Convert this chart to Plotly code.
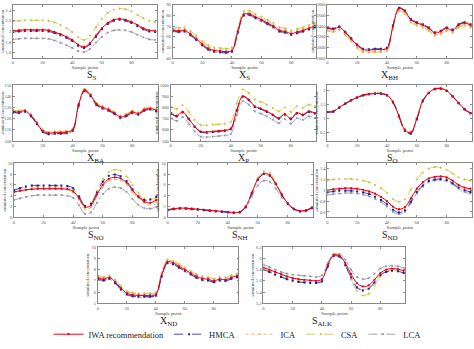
import plotly.graph_objects as go

# Sample points shared by every panel
sample_points = list(range(0, 97, 4))

methods = ["IWA recommendation", "HMCA", "ICA", "CSA", "LCA"]

# ---- S_S ----
ss_iwa = [2.01, 2.02, 2.03, 2.03, 2.03, 2.03, 2.02, 1.99, 1.95, 1.90, 1.84, 1.75, 1.71, 1.78, 1.92, 2.06, 2.16, 2.22, 2.235, 2.22, 2.18, 2.12, 2.06, 2.02, 2.01]
ss_hmca = [1.99, 2.00, 2.01, 2.01, 2.01, 2.01, 2.00, 1.97, 1.93, 1.88, 1.82, 1.73, 1.69, 1.76, 1.90, 2.04, 2.14, 2.20, 2.22, 2.20, 2.16, 2.10, 2.04, 2.00, 1.99]
ss_ica = [2.02, 2.03, 2.04, 2.04, 2.04, 2.04, 2.03, 2.00, 1.96, 1.91, 1.85, 1.76, 1.72, 1.79, 1.93, 2.07, 2.17, 2.23, 2.25, 2.23, 2.19, 2.13, 2.07, 2.03, 2.02]
ss_csa = [2.19, 2.20, 2.21, 2.21, 2.21, 2.21, 2.20, 2.17, 2.12, 2.06, 1.99, 1.89, 1.84, 1.92, 2.08, 2.24, 2.35, 2.41, 2.43, 2.42, 2.38, 2.31, 2.25, 2.20, 2.18]
ss_lca = [1.85, 1.86, 1.87, 1.87, 1.87, 1.87, 1.86, 1.83, 1.79, 1.74, 1.69, 1.63, 1.61, 1.67, 1.79, 1.90, 1.98, 2.02, 2.03, 2.02, 1.99, 1.94, 1.89, 1.85, 1.84]

# ---- X_S ----
xs_iwa = [66.5, 65.5, 66, 62.5, 58, 53, 49, 47, 46.5, 46, 47, 65, 81, 81.5, 78.5, 76, 73, 70, 66, 65, 63, 64.5, 66, 68, 70]
xs_hmca = [65.7, 64.7, 65.2, 61.7, 57.2, 52.2, 48.2, 46.2, 45.7, 45.2, 46.2, 64.2, 80.2, 80.7, 77.7, 75.2, 72.2, 69.2, 65.2, 64.2, 62.2, 63.7, 65.2, 67.2, 69.2]
xs_ica = [68, 67, 67.5, 64, 59.5, 54.5, 50.5, 48.5, 48, 47.5, 48.5, 66.5, 82.5, 83, 80, 77.5, 74.5, 71.5, 67.5, 66.5, 64.5, 66, 67.5, 69.5, 71.5]
xs_csa = [69.5, 68.5, 69, 65.5, 61, 56, 52, 50, 49.5, 49, 50, 68, 84, 84.5, 81.5, 79, 76, 73, 69, 68, 66, 67.5, 69, 71, 73]
xs_lca = [65, 64, 64.5, 61, 56.5, 51.5, 47.5, 45.5, 45, 44.5, 45.5, 63.5, 79.5, 80, 77, 74.5, 71.5, 68.5, 64.5, 63.5, 61.5, 63, 64.5, 66.5, 68.5]

# ---- X_BH ----
xbh_iwa = [2360, 2340, 2380, 2280, 2160, 2040, 1960, 1950, 1960, 1960, 1980, 2400, 2730, 2680, 2520, 2460, 2420, 2360, 2270, 2300, 2360, 2320, 2420, 2460, 2420]
xbh_hmca = [2370, 2350, 2390, 2290, 2170, 2050, 1970, 1960, 1970, 1970, 1990, 2410, 2740, 2690, 2530, 2470, 2430, 2370, 2280, 2310, 2370, 2330, 2430, 2470, 2430]
xbh_ica = [2330, 2310, 2350, 2250, 2130, 2010, 1930, 1920, 1930, 1930, 1950, 2370, 2700, 2650, 2490, 2430, 2390, 2330, 2240, 2270, 2330, 2290, 2390, 2430, 2390]
xbh_csa = [2310, 2290, 2330, 2230, 2110, 1990, 1910, 1900, 1910, 1910, 1930, 2350, 2680, 2630, 2470, 2410, 2370, 2310, 2220, 2250, 2310, 2270, 2370, 2410, 2370]
xbh_lca = [2380, 2360, 2400, 2300, 2180, 2060, 1980, 1970, 1980, 1980, 2000, 2420, 2750, 2700, 2540, 2480, 2440, 2380, 2290, 2320, 2380, 2340, 2440, 2480, 2440]

# ---- X_BA ----
xba_iwa = [126.5, 126, 127, 123, 116, 109, 107, 107.5, 107.5, 108, 110, 132.5, 145.5, 141, 133, 130, 128, 125, 121.5, 123, 126, 124.5, 128, 129, 127.5]
xba_hmca = [125.8, 125.3, 126.3, 122.3, 115.3, 108.3, 106.3, 106.8, 106.8, 107.3, 109.3, 131.8, 144.8, 140.3, 132.3, 129.3, 127.3, 124.3, 120.8, 122.3, 125.3, 123.8, 127.3, 128.3, 126.8]
xba_ica = [127.2, 126.7, 127.7, 123.7, 116.7, 109.7, 107.7, 108.2, 108.2, 108.7, 110.7, 133.2, 146.2, 141.7, 133.7, 130.7, 128.7, 125.7, 122.2, 123.7, 126.7, 125.2, 128.7, 129.7, 128.2]
xba_csa = [127.7, 127.2, 128.2, 124.2, 117.2, 110.2, 108.2, 108.7, 108.7, 109.2, 111.2, 133.7, 146.7, 142.2, 134.2, 131.2, 129.2, 126.2, 122.7, 124.2, 127.2, 125.7, 129.2, 130.2, 128.7]
xba_lca = [125.3, 124.8, 125.8, 121.8, 114.8, 107.8, 105.8, 106.3, 106.3, 106.8, 108.8, 131.3, 144.3, 139.8, 131.8, 128.8, 126.8, 123.8, 120.3, 121.8, 124.8, 123.3, 126.8, 127.8, 126.3]

# ---- X_P ----
xp_iwa = [750, 725, 760, 700, 630, 585, 580, 585, 590, 595, 610, 775, 900, 870, 810, 790, 765, 735, 705, 740, 700, 750, 735, 765, 750]
xp_hmca = [745, 720, 755, 695, 625, 580, 575, 580, 585, 590, 605, 770, 895, 865, 805, 785, 760, 730, 700, 735, 695, 745, 730, 760, 745]
xp_ica = [755, 730, 765, 705, 635, 590, 585, 590, 595, 600, 615, 780, 905, 875, 815, 795, 770, 740, 710, 745, 705, 755, 740, 770, 755]
xp_csa = [810, 785, 820, 760, 690, 645, 640, 645, 650, 655, 670, 835, 960, 930, 870, 850, 825, 795, 765, 800, 760, 810, 795, 825, 810]
xp_lca = [705, 680, 715, 655, 585, 540, 535, 540, 545, 550, 565, 730, 855, 825, 765, 745, 720, 690, 660, 695, 655, 705, 690, 720, 705]

# ---- S_O ----
so_iwa = [1.24, 1.26, 1.40, 1.54, 1.66, 1.76, 1.84, 1.88, 1.90, 1.90, 1.84, 1.60, 1.10, 0.60, 0.50, 1.00, 1.64, 1.92, 2.06, 2.08, 2.00, 1.80, 1.56, 1.34, 1.20]
so_hmca = [1.23, 1.25, 1.39, 1.53, 1.65, 1.75, 1.83, 1.87, 1.89, 1.89, 1.83, 1.58, 1.08, 0.57, 0.47, 0.97, 1.62, 1.91, 2.05, 2.07, 1.99, 1.79, 1.55, 1.33, 1.19]
so_ica = [1.24, 1.27, 1.41, 1.55, 1.67, 1.77, 1.85, 1.89, 1.91, 1.91, 1.85, 1.61, 1.12, 0.62, 0.52, 1.02, 1.65, 1.93, 2.07, 2.09, 2.01, 1.81, 1.57, 1.35, 1.21]
so_csa = [1.25, 1.27, 1.41, 1.55, 1.67, 1.77, 1.85, 1.89, 1.91, 1.91, 1.85, 1.62, 1.13, 0.64, 0.54, 1.03, 1.66, 1.93, 2.07, 2.09, 2.01, 1.81, 1.57, 1.35, 1.21]
so_lca = [1.23, 1.25, 1.39, 1.53, 1.65, 1.75, 1.83, 1.87, 1.89, 1.89, 1.83, 1.59, 1.08, 0.56, 0.46, 0.98, 1.63, 1.91, 2.05, 2.07, 1.99, 1.79, 1.55, 1.33, 1.19]

# ---- S_NO ----
sno_iwa = [4.7, 4.9, 5.1, 5.2, 5.3, 5.3, 5.3, 5.3, 5.3, 5.2, 4.8, 3.5, 1.9, 2.2, 4.2, 6.0, 7.1, 7.4, 7.2, 6.4, 5.0, 3.8, 2.9, 2.7, 3.2]
sno_hmca = [5.0, 5.4, 5.7, 5.9, 5.9, 5.9, 5.9, 5.9, 5.9, 5.8, 5.4, 3.9, 2.1, 2.5, 4.6, 6.6, 7.7, 7.9, 7.6, 6.7, 5.2, 3.9, 3.2, 3.3, 3.8]
sno_ica = [4.6, 4.8, 5.0, 5.1, 5.2, 5.2, 5.2, 5.2, 5.2, 5.1, 4.6, 3.2, 1.5, 1.8, 3.8, 5.6, 6.7, 7.0, 6.8, 6.0, 4.6, 3.5, 2.6, 2.4, 2.9]
sno_csa = [5.0, 5.3, 5.5, 5.6, 5.6, 5.6, 5.6, 5.6, 5.6, 5.5, 5.1, 3.8, 2.0, 2.6, 4.9, 7.1, 8.4, 8.8, 8.6, 7.6, 6.0, 4.5, 3.5, 3.3, 3.6]
sno_lca = [3.2, 3.5, 3.8, 4.0, 4.1, 4.1, 4.1, 4.1, 4.1, 4.0, 3.6, 2.2, 0.6, 0.9, 2.7, 4.3, 5.3, 5.6, 5.4, 4.7, 3.4, 2.3, 1.7, 1.6, 1.9]

# ---- S_NH ----
snh_iwa = [1.4, 1.6, 1.7, 1.7, 1.6, 1.5, 1.4, 1.3, 1.2, 1.1, 1.0, 0.9, 1.0, 2.0, 4.5, 7.0, 8.1, 7.8, 6.2, 4.2, 2.6, 1.6, 1.2, 1.3, 1.8]
snh_hmca = [1.3, 1.5, 1.6, 1.6, 1.5, 1.4, 1.3, 1.2, 1.1, 1.0, 0.9, 0.8, 0.9, 1.9, 4.4, 6.9, 8.0, 7.7, 6.1, 4.1, 2.5, 1.5, 1.1, 1.2, 1.7]
snh_ica = [1.4, 1.6, 1.7, 1.7, 1.6, 1.5, 1.4, 1.3, 1.2, 1.1, 1.0, 0.9, 1.0, 2.0, 4.4, 6.9, 7.9, 7.6, 6.1, 4.1, 2.5, 1.6, 1.2, 1.3, 1.8]
snh_csa = [1.4, 1.6, 1.7, 1.7, 1.6, 1.5, 1.4, 1.3, 1.2, 1.1, 1.0, 0.9, 1.0, 2.1, 4.7, 7.3, 8.5, 8.2, 6.5, 4.4, 2.7, 1.6, 1.2, 1.3, 1.8]
snh_lca = [1.4, 1.6, 1.7, 1.7, 1.6, 1.5, 1.4, 1.3, 1.2, 1.1, 1.0, 0.9, 1.0, 1.8, 3.9, 5.9, 6.8, 6.6, 5.3, 3.7, 2.4, 1.5, 1.1, 1.2, 1.7]

# ---- S_ND ----
snd_iwa = [1.00, 1.02, 1.03, 1.04, 1.04, 1.03, 1.01, 0.98, 0.94, 0.88, 0.80, 0.70, 0.65, 0.69, 0.85, 1.03, 1.15, 1.22, 1.25, 1.26, 1.24, 1.18, 1.10, 1.05, 1.03]
snd_hmca = [0.96, 0.98, 0.99, 0.99, 0.99, 0.98, 0.96, 0.93, 0.88, 0.82, 0.74, 0.64, 0.59, 0.63, 0.79, 0.97, 1.09, 1.17, 1.20, 1.21, 1.19, 1.13, 1.05, 1.00, 0.97]
snd_ica = [0.98, 1.00, 1.01, 1.02, 1.02, 1.01, 0.99, 0.96, 0.92, 0.86, 0.78, 0.68, 0.63, 0.67, 0.83, 1.01, 1.13, 1.20, 1.23, 1.24, 1.22, 1.16, 1.08, 1.03, 1.01]
snd_csa = [1.18, 1.20, 1.21, 1.21, 1.21, 1.20, 1.18, 1.15, 1.10, 1.04, 0.95, 0.84, 0.79, 0.84, 1.01, 1.20, 1.33, 1.40, 1.43, 1.42, 1.38, 1.31, 1.24, 1.20, 1.18]
snd_lca = [0.91, 0.93, 0.94, 0.95, 0.95, 0.94, 0.92, 0.89, 0.84, 0.78, 0.70, 0.60, 0.56, 0.60, 0.76, 0.94, 1.07, 1.15, 1.18, 1.19, 1.17, 1.11, 1.03, 0.97, 0.94]

# ---- X_ND ----
xnd_iwa = [7.3, 7.15, 7.3, 6.9, 6.35, 5.9, 5.75, 5.7, 5.7, 5.7, 5.8, 7.5, 8.7, 8.6, 8.3, 8.0, 7.7, 7.4, 7.2, 7.15, 7.0, 7.15, 7.1, 7.3, 7.45]
xnd_hmca = [7.2, 7.05, 7.2, 6.8, 6.25, 5.8, 5.65, 5.6, 5.6, 5.6, 5.7, 7.4, 8.6, 8.5, 8.2, 7.9, 7.6, 7.3, 7.1, 7.05, 6.9, 7.05, 7.0, 7.2, 7.35]
xnd_ica = [7.42, 7.27, 7.42, 7.02, 6.47, 6.02, 5.87, 5.82, 5.82, 5.82, 5.92, 7.62, 8.82, 8.72, 8.42, 8.12, 7.82, 7.52, 7.32, 7.27, 7.12, 7.27, 7.22, 7.42, 7.57]
xnd_csa = [7.5, 7.35, 7.5, 7.1, 6.55, 6.1, 5.95, 5.9, 5.9, 5.9, 6.0, 7.7, 8.9, 8.8, 8.5, 8.2, 7.9, 7.6, 7.4, 7.35, 7.2, 7.35, 7.3, 7.5, 7.65]
xnd_lca = [7.15, 7.0, 7.15, 6.75, 6.2, 5.75, 5.6, 5.55, 5.55, 5.55, 5.65, 7.35, 8.55, 8.45, 8.15, 7.85, 7.55, 7.25, 7.05, 7.0, 6.85, 7.0, 6.95, 7.15, 7.3]

# ---- S_ALK ----
salk_iwa = [5.84, 5.80, 5.76, 5.72, 5.68, 5.65, 5.63, 5.62, 5.61, 5.60, 5.63, 5.88, 6.06, 6.05, 5.92, 5.72, 5.56, 5.50, 5.52, 5.62, 5.74, 5.80, 5.82, 5.81, 5.78]
salk_hmca = [5.80, 5.76, 5.71, 5.67, 5.63, 5.60, 5.58, 5.57, 5.56, 5.56, 5.59, 5.85, 6.04, 6.03, 5.88, 5.66, 5.48, 5.43, 5.46, 5.57, 5.70, 5.76, 5.78, 5.77, 5.74]
salk_ica = [5.83, 5.79, 5.74, 5.70, 5.66, 5.63, 5.61, 5.60, 5.59, 5.58, 5.61, 5.87, 6.05, 6.04, 5.90, 5.68, 5.50, 5.44, 5.47, 5.58, 5.71, 5.77, 5.80, 5.79, 5.76]
salk_csa = [5.82, 5.78, 5.73, 5.69, 5.65, 5.62, 5.60, 5.59, 5.58, 5.57, 5.61, 5.87, 6.08, 6.06, 5.88, 5.62, 5.42, 5.34, 5.37, 5.52, 5.68, 5.76, 5.79, 5.78, 5.75]
salk_lca = [5.89, 5.85, 5.80, 5.76, 5.73, 5.71, 5.70, 5.69, 5.68, 5.67, 5.70, 5.92, 6.08, 6.08, 5.98, 5.80, 5.67, 5.63, 5.65, 5.73, 5.82, 5.86, 5.87, 5.86, 5.83]

panel_names = ["S<sub>S</sub>", "X<sub>S</sub>", "X<sub>BH</sub>",
               "X<sub>BA</sub>", "X<sub>P</sub>", "S<sub>O</sub>",
               "S<sub>NO</sub>", "S<sub>NH</sub>", "S<sub>ND</sub>",
               "X<sub>ND</sub>", "S<sub>ALK</sub>"]

panel_series = [
    [ss_iwa, ss_hmca, ss_ica, ss_csa, ss_lca],
    [xs_iwa, xs_hmca, xs_ica, xs_csa, xs_lca],
    [xbh_iwa, xbh_hmca, xbh_ica, xbh_csa, xbh_lca],
    [xba_iwa, xba_hmca, xba_ica, xba_csa, xba_lca],
    [xp_iwa, xp_hmca, xp_ica, xp_csa, xp_lca],
    [so_iwa, so_hmca, so_ica, so_csa, so_lca],
    [sno_iwa, sno_hmca, sno_ica, sno_csa, sno_lca],
    [snh_iwa, snh_hmca, snh_ica, snh_csa, snh_lca],
    [snd_iwa, snd_hmca, snd_ica, snd_csa, snd_lca],
    [xnd_iwa, xnd_hmca, xnd_ica, xnd_csa, xnd_lca],
    [salk_iwa, salk_hmca, salk_ica, salk_csa, salk_lca],
]

y_ranges = [[1.5, 2.5], [40, 90], [1800, 2800], [100, 150], [500, 1000], [0.2, 2.2],
            [0, 10], [0, 10], [0.5, 1.5], [5, 10], [5.2, 6.2]]

# Panel boxes in paper coordinates
W, H = 474.0, 349.0
def box(px0, px1, py0, py1):
    return [px0 / W, px1 / W], [1 - py1 / H, 1 - py0 / H]

panel_boxes = [
    box(12, 156, 3, 58), box(172, 316, 3, 58), box(327, 472, 3, 58),
    box(12, 157, 86, 144), box(170, 316, 86, 144), box(327, 472, 86, 144),
    box(13, 157, 167, 223), box(167, 313, 167, 223), box(327, 472, 167, 223),
    box(97, 238, 254, 312), box(263, 405, 254, 312),
]

styles = [
    dict(color="#e3001b", dash="solid", symbol="circle", width=1.0, msize=2.2),
    dict(color="#1b1ba6", dash="dash", symbol="square", width=0.8, msize=2.0),
    dict(color="#e2a25a", dash="dot", symbol="triangle-up", width=0.8, msize=2.0),
    dict(color="#c8c040", dash="dash", symbol="diamond", width=0.8, msize=2.0),
    dict(color="#8c8ca6", dash="dashdot", symbol="x", width=0.8, msize=2.0),
]

fig = go.Figure()
axis_color = "#8a8a8a"
tick_font = dict(family="Liberation Serif", size=4.5, color="#555555")

for i, (series, yr, (xd, yd)) in enumerate(zip(panel_series, y_ranges, panel_boxes)):
    n = i + 1
    xa = "x" if n == 1 else f"x{n}"
    ya = "y" if n == 1 else f"y{n}"
    # reference method drawn last so it sits on top
    for k in [4, 3, 2, 1, 0]:
        st = styles[k]
        fig.add_trace(go.Scatter(
            x=sample_points, y=series[k], xaxis=xa, yaxis=ya,
            mode="lines+markers", name=methods[k], legendgroup=methods[k],
            showlegend=(i == 0), legendrank=k + 1,
            line=dict(color=st["color"], dash=st["dash"], width=st["width"], shape="spline"),
            marker=dict(color=st["color"], symbol=st["symbol"], size=st["msize"]),
        ))
    axkey = "xaxis" if n == 1 else f"xaxis{n}"
    aykey = "yaxis" if n == 1 else f"yaxis{n}"
    fig.layout[axkey] = dict(
        domain=xd, anchor=ya, range=[0, 97], tickvals=[0, 20, 40, 60, 80],
        showline=True, mirror="ticks", linecolor=axis_color, linewidth=0.8,
        ticks="inside", ticklen=2, tickcolor=axis_color, showgrid=False, zeroline=False,
        tickfont=tick_font,
        title=dict(text="Sample point", font=dict(family="Liberation Serif", size=5, color="#444"), standoff=1),
    )
    fig.layout[aykey] = dict(
        domain=yd, anchor=xa, range=yr, nticks=7,
        showline=True, mirror="ticks", linecolor=axis_color, linewidth=0.8,
        ticks="inside", ticklen=2, tickcolor=axis_color, showgrid=False, zeroline=False,
        tickfont=tick_font,
        title=dict(text="simulated concentration", font=dict(family="Liberation Serif", size=4.5, color="#444"), standoff=1),
    )
    fig.add_annotation(
        x=(xd[0] + xd[1]) / 2, y=yd[0] - 18.5 / H, xref="paper", yref="paper",
        text=panel_names[i], showarrow=False, yanchor="middle",
        font=dict(family="Liberation Serif", size=10, color="#222"),
    )

fig.update_layout(
    width=474, height=349, margin=dict(l=0, r=0, t=0, b=0),
    paper_bgcolor="white", plot_bgcolor="white",
    showlegend=True,
    legend=dict(orientation="h", x=0.5, xanchor="center", y=5 / H, yanchor="middle",
                font=dict(family="Liberation Serif", size=8.5, color="#222"),
                itemwidth=30, tracegroupgap=0, bgcolor="rgba(0,0,0,0)"),
)

fig.write_html("out.html")
